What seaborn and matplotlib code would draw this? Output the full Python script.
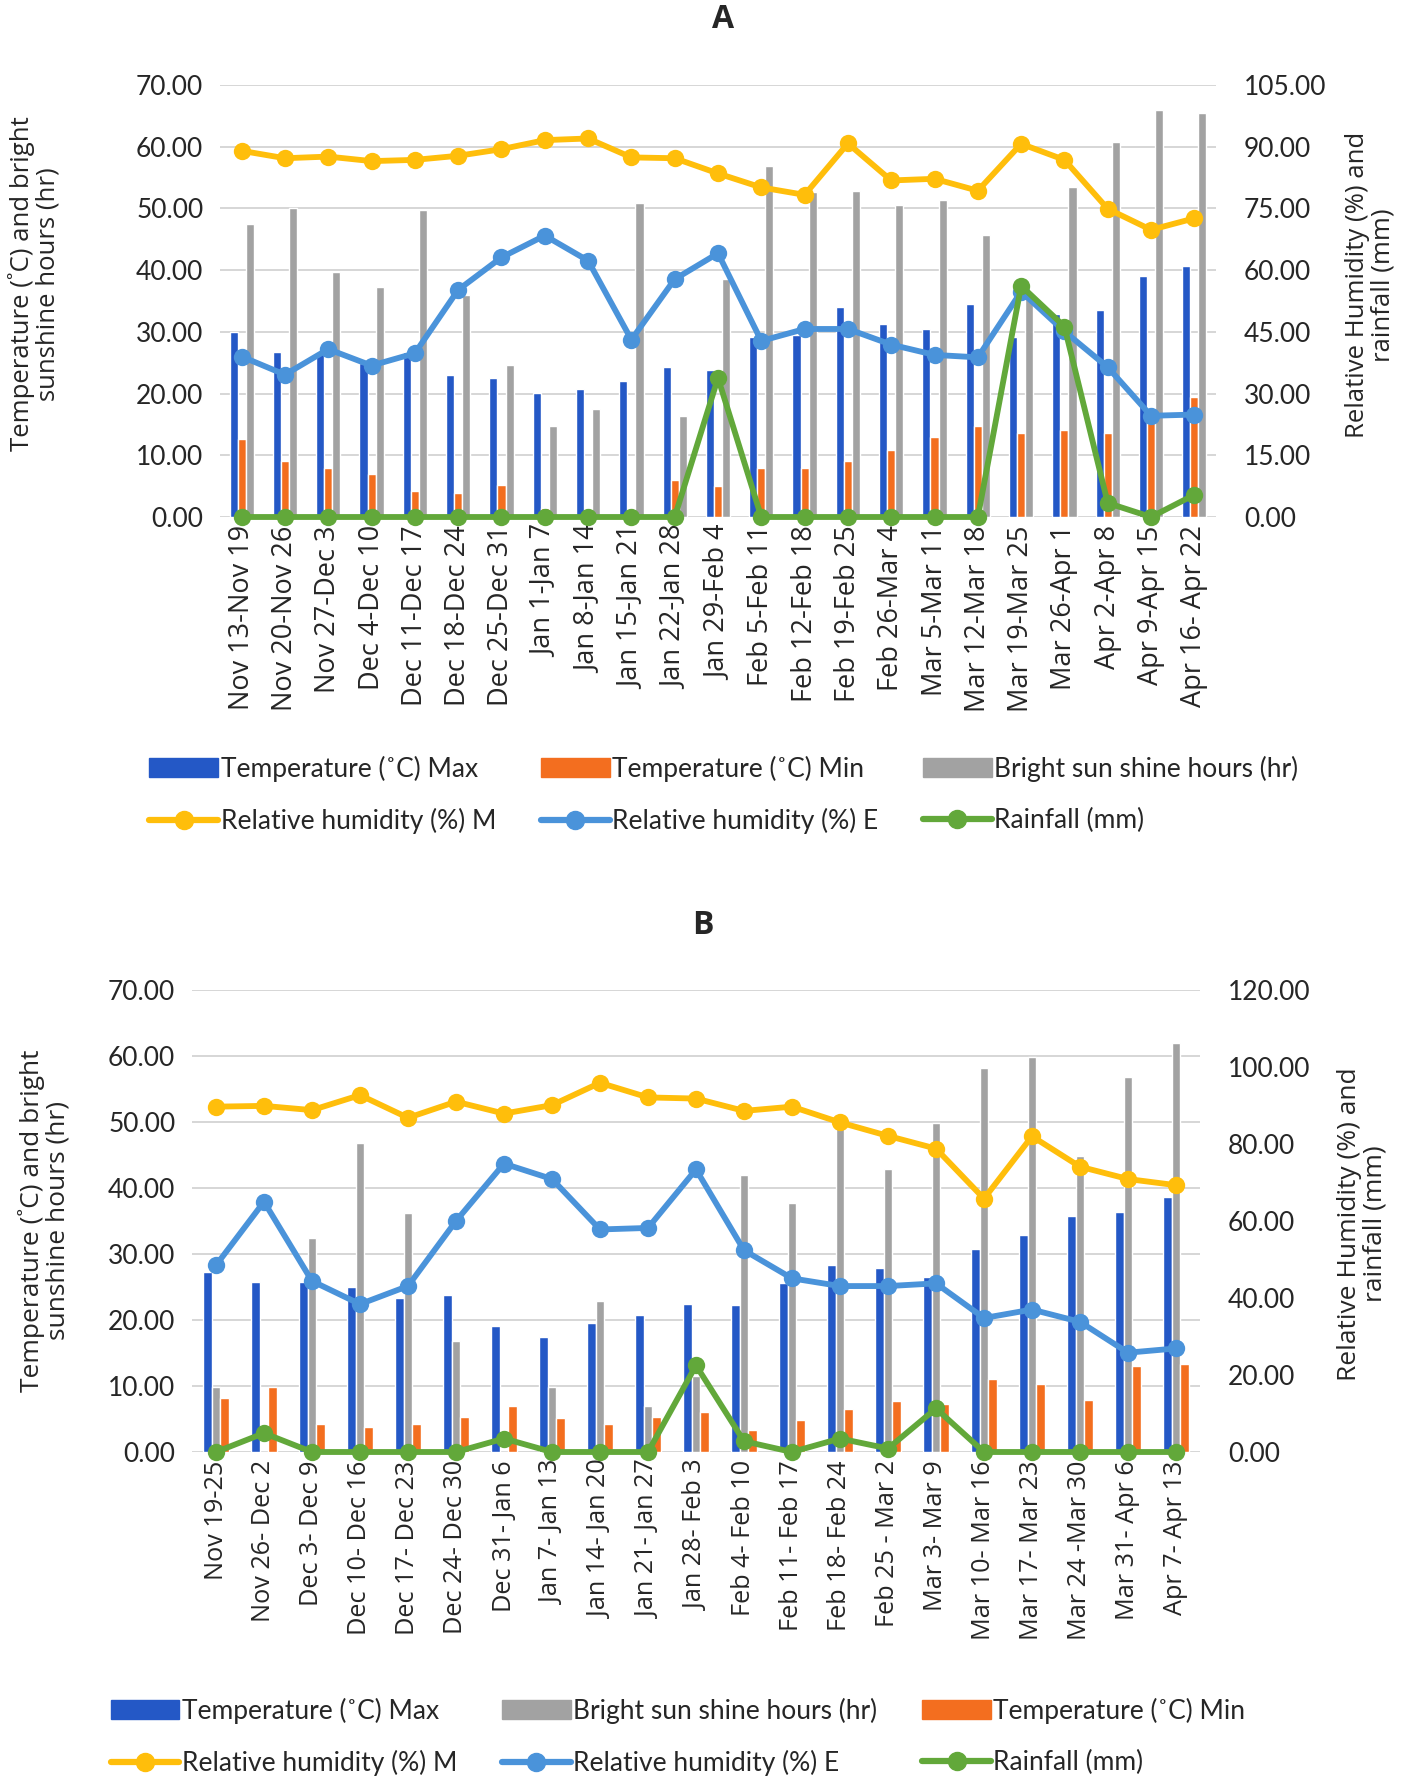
import numpy as np
import pandas as pd
import matplotlib
matplotlib.use("Agg")
import matplotlib.pyplot as plt
import seaborn as sns
from matplotlib.patches import Patch
from matplotlib.lines import Line2D
from matplotlib.ticker import FormatStrFormatter, MultipleLocator

sns.set_theme(style="white")
plt.rcParams["font.family"] = ["Open Sans", "DejaVu Sans"]

# ---------------- Panel A data ----------------
weeks_a = ["Nov 13-Nov 19", "Nov 20-Nov 26", "Nov 27-Dec 3", "Dec 4-Dec 10", "Dec 11-Dec 17",
           "Dec 18-Dec 24", "Dec 25-Dec 31", "Jan 1-Jan 7", "Jan 8-Jan 14", "Jan 15-Jan 21",
           "Jan 22-Jan 28", "Jan 29-Feb 4", "Feb 5-Feb 11", "Feb 12-Feb 18", "Feb 19-Feb 25",
           "Feb 26-Mar 4", "Mar 5-Mar 11", "Mar 12-Mar 18", "Mar 19-Mar 25", "Mar 26-Apr 1",
           "Apr 2-Apr 8", "Apr 9-Apr 15", "Apr 16- Apr 22"]
tmax_a = [30.0, 26.8, 26.5, 25.0, 26.8, 23.0, 22.5, 20.1, 20.7, 22.0, 24.3, 23.8,
          29.2, 29.5, 34.0, 31.2, 30.5, 34.5, 29.2, 32.9, 33.5, 39.1, 40.6]
tmin_a = [12.6, 9.0, 8.0, 7.0, 4.2, 3.9, 5.2, 1.5, 0.0, 0.0, 6.0, 5.0,
          8.0, 8.0, 9.0, 10.8, 12.9, 14.8, 13.6, 14.1, 13.6, 15.2, 19.4]
sun_a = [47.5, 50.0, 39.7, 37.3, 49.8, 36.0, 24.6, 14.8, 17.5, 50.8, 16.4, 38.5,
         56.9, 52.6, 52.8, 50.6, 51.3, 45.7, 36.3, 53.4, 60.8, 65.9, 65.4]
rhm_a = [89.0, 87.2, 87.6, 86.5, 86.8, 87.8, 89.4, 91.6, 92.0, 87.4, 87.2, 83.5,
         80.1, 78.3, 90.8, 81.8, 82.2, 79.3, 90.7, 86.8, 74.9, 69.8, 72.6]
rhe_a = [39.0, 34.6, 40.8, 36.8, 39.8, 55.2, 63.1, 68.4, 62.3, 43.1, 57.8, 64.1,
         42.8, 45.7, 45.7, 41.9, 39.4, 38.8, 54.8, 45.1, 36.4, 24.6, 24.9]
rain_a = [0, 0, 0, 0, 0, 0, 0, 0, 0, 0, 0, 33.8,
          0, 0, 0, 0, 0, 0, 56.2, 46.3, 3.4, 0, 5.4]

# ---------------- Panel B data ----------------
weeks_b = ["Nov 19-25", "Nov 26- Dec 2", "Dec 3- Dec 9", "Dec 10- Dec 16", "Dec 17- Dec 23",
           "Dec 24- Dec 30", "Dec 31- Jan 6", "Jan 7- Jan 13", "Jan 14- Jan 20", "Jan 21- Jan 27",
           "Jan 28- Feb 3", "Feb 4- Feb 10", "Feb 11- Feb 17", "Feb 18- Feb 24", "Feb 25 - Mar 2",
           "Mar 3- Mar 9", "Mar 10- Mar 16", "Mar 17- Mar 23", "Mar 24 -Mar 30", "Mar 31- Apr 6",
           "Apr 7- Apr 13"]
tmax_b = [27.2, 25.8, 25.8, 25.0, 23.4, 23.8, 19.1, 17.4, 19.6, 20.8, 22.4,
          22.2, 25.6, 28.4, 27.9, 26.5, 30.8, 32.9, 35.8, 36.3, 38.6]
sun_b = [9.8, 0.0, 32.5, 46.8, 36.2, 16.8, 0.0, 9.8, 22.9, 7.0, 11.5,
         42.0, 37.7, 49.8, 42.9, 49.9, 58.2, 59.9, 44.8, 56.8, 62.0]
tmin_b = [8.2, 9.8, 4.3, 3.8, 4.3, 5.3, 7.0, 5.1, 4.3, 5.3, 6.0,
          3.3, 4.8, 6.5, 7.7, 7.2, 11.0, 10.3, 7.9, 13.1, 13.4]
rhm_b = [89.7, 89.9, 88.8, 92.7, 86.8, 91.0, 87.9, 90.1, 95.9, 92.1, 91.8,
         88.6, 89.7, 85.6, 82.1, 78.8, 65.8, 82.0, 74.1, 70.9, 69.3]
rhe_b = [48.5, 65.0, 44.4, 38.4, 43.1, 60.0, 74.9, 70.9, 57.8, 58.2, 73.4,
         52.4, 45.1, 43.1, 43.1, 43.8, 34.8, 37.0, 33.8, 25.8, 26.9]
rain_b = [0, 4.9, 0, 0, 0, 0, 3.5, 0, 0, 0, 22.5,
          2.8, 0, 3.5, 0.9, 11.3, 0, 0, 0, 0, 0]

# ---------------- labels / colours ----------------
L_MAX = "Temperature (˚C) Max"
L_MIN = "Temperature (˚C) Min"
L_SUN = "Bright sun shine hours (hr)"
L_RHM = "Relative humidity (%) M"
L_RHE = "Relative humidity (%) E"
L_RAIN = "Rainfall (mm)"

C_MAX = "#2458C6"
C_MIN = "#F36E1F"
C_SUN = "#A2A2A2"
C_RHM = "#FFBE0B"
C_RHE = "#4A93DA"
C_RAIN = "#62A83A"

NARROW = ["Lato", "DejaVu Sans"]
W, H = 1418, 1782
fig = plt.figure(figsize=(W / 100, H / 100), dpi=100)


def rect(l, t, r, b):
    return [l / W, 1 - b / H, (r - l) / W, (b - t) / H]


def panel(box, cats, bar_series, rhm, rhe, rain, ymax2, step2, xfs):
    ax = fig.add_axes(rect(*box))
    names = [s[0] for s in bar_series]
    df = pd.concat([pd.DataFrame({"week": cats, "series": s[0], "value": s[1]})
                    for s in bar_series], ignore_index=True)
    sns.barplot(data=df, x="week", y="value", hue="series", order=cats,
                hue_order=names, palette=[s[2] for s in bar_series],
                width=0.56, gap=0, saturation=1, legend=False, ax=ax, zorder=2)
    n = len(cats)
    ax.set_xlim(-0.5, n - 0.5)
    ax.set_ylim(0, 70)
    ax.yaxis.set_major_locator(MultipleLocator(10))
    ax.yaxis.set_major_formatter(FormatStrFormatter("%.2f"))
    ax.grid(axis="y", color="#D3D3D3", lw=1.3, zorder=0)
    ax.grid(axis="x", visible=False)
    ax.set_axisbelow(True)
    ax.set_xlabel("")
    ax.set_ylabel("")
    ax.set_xticks(range(n))
    ax.set_xticklabels(cats, rotation=90, fontsize=xfs,
                       family=["Open Sans", "DejaVu Sans"])
    ax.tick_params(axis="x", length=0, pad=6)
    ax.tick_params(axis="y", length=0, pad=12)
    for t in ax.get_yticklabels():
        t.set_fontsize(19)
        t.set_family(NARROW)
    for s in ax.spines.values():
        s.set_visible(False)

    ax2 = ax.twinx()
    x = np.arange(n)
    for vals, col in [(rhm, C_RHM), (rhe, C_RHE), (rain, C_RAIN)]:
        sns.lineplot(x=x, y=vals, ax=ax2, color=col, linewidth=4.2,
                     marker="o", markersize=12.5, markeredgecolor=col,
                     markeredgewidth=0, legend=False)
    ax2.set_ylim(0, ymax2)
    ax2.yaxis.set_major_locator(MultipleLocator(step2))
    ax2.yaxis.set_major_formatter(FormatStrFormatter("%.2f"))
    ax2.grid(False)
    ax2.set_ylabel("")
    ax2.tick_params(axis="y", length=0, pad=20)
    for t in ax2.get_yticklabels():
        t.set_fontsize(19)
        t.set_family(NARROW)
    for s in ax2.spines.values():
        s.set_visible(False)
    for line in ax2.lines:
        line.set_clip_on(False)
    return ax, ax2


def legend(order, xc, yc):
    hs = []
    for lab in order:
        if lab in (L_MAX, L_MIN, L_SUN):
            col = {L_MAX: C_MAX, L_MIN: C_MIN, L_SUN: C_SUN}[lab]
            hs.append(Patch(facecolor=col, edgecolor=col, label=lab))
        else:
            col = {L_RHM: C_RHM, L_RHE: C_RHE, L_RAIN: C_RAIN}[lab]
            hs.append(Line2D([], [], color=col, lw=4.5, marker="o", markersize=13, label=lab))
    # matplotlib fills columns first: interleave rows
    ordered = [hs[0], hs[3], hs[1], hs[4], hs[2], hs[5]]
    fig.legend(handles=ordered, loc="center", bbox_to_anchor=(xc / W, 1 - yc / H),
               ncol=3, frameon=False, prop={"family": NARROW, "size": 19},
               handlelength=2.6, handletextpad=0.1, columnspacing=1.7,
               labelspacing=1.0, handleheight=0.75)


# Panel A
panel((220, 85, 1216, 517), weeks_a,
      [(L_MAX, tmax_a, C_MAX), (L_MIN, tmin_a, C_MIN), (L_SUN, sun_a, C_SUN)],
      rhm_a, rhe_a, rain_a, 105, 15, 19.5)
fig.text(723 / W, 1 - 20 / H, "A", ha="center", va="center", fontsize=23, fontweight="bold")
fig.text(34 / W, 1 - 284 / H, "Temperature (˚C) and bright\nsunshine hours (hr)",
         rotation=90, ha="center", va="center", fontsize=18.5, linespacing=1.05)
fig.text(1370 / W, 1 - 285 / H, "Relative Humidity (%) and\nrainfall (mm)",
         rotation=90, ha="center", va="center", fontsize=18.5, linespacing=1.05)
legend([L_MAX, L_MIN, L_SUN, L_RHM, L_RHE, L_RAIN], 724, 795)

# Panel B
panel((192, 990, 1200, 1452), weeks_b,
      [(L_MAX, tmax_b, C_MAX), (L_SUN, sun_b, C_SUN), (L_MIN, tmin_b, C_MIN)],
      rhm_b, rhe_b, rain_b, 120, 20, 18.2)
fig.text(703 / W, 1 - 925 / H, "B", ha="center", va="center", fontsize=23, fontweight="bold")
fig.text(44 / W, 1 - 1221 / H, "Temperature (˚C) and bright\nsunshine hours (hr)",
         rotation=90, ha="center", va="center", fontsize=19, linespacing=1.05)
fig.text(1362 / W, 1 - 1224 / H, "Relative Humidity (%) and\nrainfall (mm)",
         rotation=90, ha="center", va="center", fontsize=19, linespacing=1.05)
legend([L_MAX, L_SUN, L_MIN, L_RHM, L_RHE, L_RAIN], 678, 1737)

fig.savefig("out.png", dpi=100, facecolor="white")
